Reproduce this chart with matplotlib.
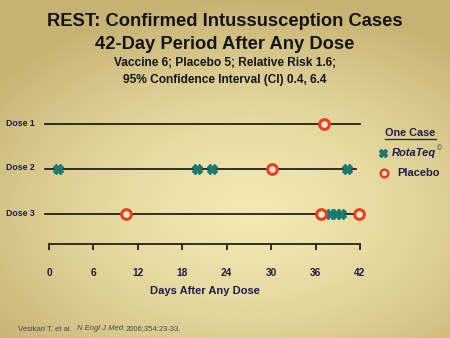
import numpy as np
import matplotlib.pyplot as plt

# cases: day after dose at onset
doses = ["Dose 1", "Dose 2", "Dose 3"]
rotateq_days = [[], [1.2, 20.0, 22.0, 40.2], [38.0, 38.7, 39.4]]
placebo_days = [[37.2], [30.1], [10.4, 36.7, 41.8]]
day_ticks = [0, 6, 12, 18, 24, 30, 36, 42]

title_lines = ["REST: Confirmed Intussusception Cases", "42-Day Period After Any Dose"]
sub_lines = ["Vaccine 6; Placebo 5; Relative Risk 1.6;", "95% Confidence Interval (CI) 0.4, 6.4"]

W, H = 450, 338
navy = "#1c1c4c"
teal = "#1a7a74"
red = "#e8401a"
FONT = "Liberation Sans"

fig = plt.figure(figsize=(4.5, 3.38), dpi=100)

# background gradient
bg = fig.add_axes([0, 0, 1, 1])
yy, xx = np.mgrid[0:H, 0:W]
d = np.sqrt(((xx - 250) / 320.0) ** 2 + ((yy - 210) / 210.0) ** 2)
d = np.clip(d, 0, 1)
c0 = np.array([0.95, 0.91, 0.70])
c1 = np.array([0.78, 0.70, 0.45])
img = c0 + (c1 - c0) * d[..., None] ** 1.5
bg.imshow(np.clip(img, 0, 1), extent=[0, W, H, 0], aspect="auto")
bg.set_xlim(0, W)
bg.set_ylim(H, 0)
bg.axis("off")

# data axes: x in days, y in pixel rows
px0, ppd = 49.0, (360.0 - 49.0) / 42.0
ax = fig.add_axes([0, 0, 1, 1])
ax.set_xlim(-px0 / ppd, (W - px0) / ppd)
ax.set_ylim(H, 0)
ax.axis("off")

row_y = [124, 169, 214]
line_end = [42, 41.5, 41.5]
for i, name in enumerate(doses):
    y = row_y[i]
    ax.plot([-0.5, line_end[i]], [y, y], color="#111111", lw=1.2, zorder=2)
    ax.text(-5.8, y - 1, name, fontsize=6.3, fontweight="bold", color=navy,
            va="center", ha="left", family=FONT)
    ax.plot(rotateq_days[i], [y] * len(rotateq_days[i]), ls="none", marker="X",
            ms=7, color=teal, mec=teal, zorder=3)
    ax.plot(placebo_days[i], [y] * len(placebo_days[i]), ls="none", marker="o",
            ms=7, mfc="#f6ead0", mec=red, mew=2.2, zorder=4)

# day axis
ay = 244
ax.plot([day_ticks[0], day_ticks[-1]], [ay, ay], color="#222222", lw=1.3)
ax.vlines(day_ticks, ay, ay + 6, color="#222222", lw=1.3)
for t in day_ticks:
    ax.text(t, 272.5, str(t), fontsize=7.3, fontweight="bold", color=navy,
            ha="center", va="center", family=FONT)
ax.text(21, 291, "Days After Any Dose", fontsize=8, fontweight="bold", color=navy,
        ha="center", va="center", family=FONT)

# overlay in pixel coords for titles and legend
ov = fig.add_axes([0, 0, 1, 1])
ov.set_xlim(0, W)
ov.set_ylim(H, 0)
ov.axis("off")

ov.text(225, 26, title_lines[0], fontsize=13.2, fontweight="bold", color="#141414",
        ha="center", va="baseline", family=FONT)
ov.text(225, 49, title_lines[1], fontsize=13.2, fontweight="bold", color="#141414",
        ha="center", va="baseline", family=FONT)
ov.text(225, 66, sub_lines[0], fontsize=8.6, fontweight="bold", color="#141414",
        ha="center", va="baseline", family=FONT)
ov.text(225, 83, sub_lines[1], fontsize=8.6, fontweight="bold", color="#141414",
        ha="center", va="baseline", family=FONT)

# legend
ov.text(410, 133, "One Case", fontsize=7.8, fontweight="bold", color=navy,
        ha="center", va="center", family=FONT)
ov.plot([385, 436], [139, 139], color=navy, lw=0.9)
ov.plot([383], [153], marker="X", ms=6, color=teal, ls="none")
ov.text(392, 153, "RotaTeq", fontsize=8, fontweight="bold", style="italic",
        color=navy, ha="left", va="center", family=FONT)
ov.text(437, 149, "\u00a9", fontsize=4.8, color=navy, ha="left", va="center",
        family=FONT)
ov.plot([384], [173], marker="o", ms=5.5, mfc="#f6ead0", mec=red, mew=1.8, ls="none")
ov.text(397, 173, "Placebo", fontsize=8, fontweight="bold", color=navy,
        ha="left", va="center", family=FONT)

ov.text(18, 329, "Vesikari T, et al.", fontsize=5.5, color="#4a4a4a",
        ha="left", va="center", family=FONT)
ov.text(77, 329, "N Engl J Med.", fontsize=5.5, color="#4a4a4a", style="italic",
        ha="left", va="center", family=FONT)
ov.text(126, 329, "2006;354:23-33.", fontsize=5.5, color="#4a4a4a",
        ha="left", va="center", family=FONT)

fig.savefig("out.png", dpi=100)
